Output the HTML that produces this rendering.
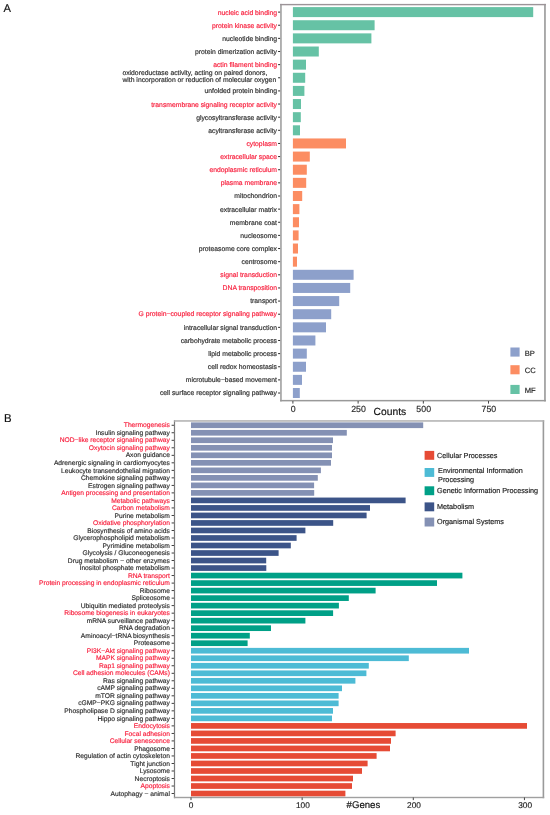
<!DOCTYPE html><html><head><meta charset="utf-8"><style>html,body{margin:0;padding:0;background:#fff;}svg{display:block;will-change:transform;}text{font-family:"Liberation Sans",sans-serif;stroke-width:0.16px;text-rendering:geometricPrecision;}</style></head><body>
<svg width="550" height="815" viewBox="0 0 550 815">
<rect x="0" y="0" width="550" height="815" fill="#fff"/>
<text x="3.6" y="12.2" font-size="11.2" fill="#111" stroke="#111">A</text>
<text x="4.0" y="421.9" font-size="11.4" fill="#111" stroke="#111">B</text>
<rect x="292.9" y="7.1" width="240.3" height="10" fill="#66C2A5"/>
<rect x="278.1" y="11.6" width="2.5" height="1.0" fill="#2a2a2a"/>
<text x="277" y="14.8" font-size="6.8" fill="#F8203E" stroke="#F8203E" text-anchor="end">nucleic acid binding</text>
<rect x="292.9" y="20.23" width="81.7" height="10" fill="#66C2A5"/>
<rect x="278.1" y="24.73" width="2.5" height="1.0" fill="#2a2a2a"/>
<text x="277" y="27.91" font-size="6.8" fill="#F8203E" stroke="#F8203E" text-anchor="end">protein kinase activity</text>
<rect x="292.9" y="33.37" width="78.5" height="10" fill="#66C2A5"/>
<rect x="278.1" y="37.87" width="2.5" height="1.0" fill="#2a2a2a"/>
<text x="277" y="41.03" font-size="6.8" fill="#2e2e2e" stroke="#2e2e2e" text-anchor="end">nucleotide binding</text>
<rect x="292.9" y="46.51" width="25.9" height="10" fill="#66C2A5"/>
<rect x="278.1" y="51.01" width="2.5" height="1.0" fill="#2a2a2a"/>
<text x="277" y="54.14" font-size="6.8" fill="#2e2e2e" stroke="#2e2e2e" text-anchor="end">protein dimerization activity</text>
<rect x="292.9" y="59.64" width="13.1" height="10" fill="#66C2A5"/>
<rect x="278.1" y="64.14" width="2.5" height="1.0" fill="#2a2a2a"/>
<text x="277" y="67.26" font-size="6.8" fill="#F8203E" stroke="#F8203E" text-anchor="end">actin filament binding</text>
<rect x="292.9" y="72.77" width="12.3" height="10" fill="#66C2A5"/>
<rect x="278.1" y="77.27" width="2.5" height="1.0" fill="#2a2a2a"/>
<text x="122.4" y="74.67" font-size="6.8" fill="#2e2e2e" stroke="#2e2e2e">oxidoreductase activity, acting on paired donors,</text>
<text x="122.4" y="82.47" font-size="6.8" fill="#2e2e2e" stroke="#2e2e2e">with incorporation or reduction of molecular oxygen</text>
<rect x="292.9" y="85.91" width="11.5" height="10" fill="#66C2A5"/>
<rect x="278.1" y="90.41" width="2.5" height="1.0" fill="#2a2a2a"/>
<text x="277" y="93.49" font-size="6.8" fill="#2e2e2e" stroke="#2e2e2e" text-anchor="end">unfolded protein binding</text>
<rect x="292.9" y="99.04" width="8.1" height="10" fill="#66C2A5"/>
<rect x="278.1" y="103.54" width="2.5" height="1.0" fill="#2a2a2a"/>
<text x="277" y="106.6" font-size="6.8" fill="#F8203E" stroke="#F8203E" text-anchor="end">transmembrane signaling receptor activity</text>
<rect x="292.9" y="112.18" width="7.9" height="10" fill="#66C2A5"/>
<rect x="278.1" y="116.68" width="2.5" height="1.0" fill="#2a2a2a"/>
<text x="277" y="119.71" font-size="6.8" fill="#2e2e2e" stroke="#2e2e2e" text-anchor="end">glycosyltransferase activity</text>
<rect x="292.9" y="125.31" width="7.1" height="10" fill="#66C2A5"/>
<rect x="278.1" y="129.81" width="2.5" height="1.0" fill="#2a2a2a"/>
<text x="277" y="132.83" font-size="6.8" fill="#2e2e2e" stroke="#2e2e2e" text-anchor="end">acyltransferase activity</text>
<rect x="292.9" y="138.45" width="53.1" height="10" fill="#FC8D62"/>
<rect x="278.1" y="142.95" width="2.5" height="1.0" fill="#2a2a2a"/>
<text x="277" y="145.94" font-size="6.8" fill="#F8203E" stroke="#F8203E" text-anchor="end">cytoplasm</text>
<rect x="292.9" y="151.58" width="16.9" height="10" fill="#FC8D62"/>
<rect x="278.1" y="156.08" width="2.5" height="1.0" fill="#2a2a2a"/>
<text x="277" y="159.06" font-size="6.8" fill="#F8203E" stroke="#F8203E" text-anchor="end">extracellular space</text>
<rect x="292.9" y="164.72" width="13.9" height="10" fill="#FC8D62"/>
<rect x="278.1" y="169.22" width="2.5" height="1.0" fill="#2a2a2a"/>
<text x="277" y="172.17" font-size="6.8" fill="#F8203E" stroke="#F8203E" text-anchor="end">endoplasmic reticulum</text>
<rect x="292.9" y="177.85" width="13.3" height="10" fill="#FC8D62"/>
<rect x="278.1" y="182.35" width="2.5" height="1.0" fill="#2a2a2a"/>
<text x="277" y="185.29" font-size="6.8" fill="#F8203E" stroke="#F8203E" text-anchor="end">plasma membrane</text>
<rect x="292.9" y="190.99" width="9.3" height="10" fill="#FC8D62"/>
<rect x="278.1" y="195.49" width="2.5" height="1.0" fill="#2a2a2a"/>
<text x="277" y="198.4" font-size="6.8" fill="#2e2e2e" stroke="#2e2e2e" text-anchor="end">mitochondrion</text>
<rect x="292.9" y="204.12" width="6.5" height="10" fill="#FC8D62"/>
<rect x="278.1" y="208.62" width="2.5" height="1.0" fill="#2a2a2a"/>
<text x="277" y="211.51" font-size="6.8" fill="#2e2e2e" stroke="#2e2e2e" text-anchor="end">extracellular matrix</text>
<rect x="292.9" y="217.26" width="6.1" height="10" fill="#FC8D62"/>
<rect x="278.1" y="221.76" width="2.5" height="1.0" fill="#2a2a2a"/>
<text x="277" y="224.63" font-size="6.8" fill="#2e2e2e" stroke="#2e2e2e" text-anchor="end">membrane coat</text>
<rect x="292.9" y="230.39" width="5.7" height="10" fill="#FC8D62"/>
<rect x="278.1" y="234.89" width="2.5" height="1.0" fill="#2a2a2a"/>
<text x="277" y="237.74" font-size="6.8" fill="#2e2e2e" stroke="#2e2e2e" text-anchor="end">nucleosome</text>
<rect x="292.9" y="243.53" width="5.1" height="10" fill="#FC8D62"/>
<rect x="278.1" y="248.03" width="2.5" height="1.0" fill="#2a2a2a"/>
<text x="277" y="250.86" font-size="6.8" fill="#2e2e2e" stroke="#2e2e2e" text-anchor="end">proteasome core complex</text>
<rect x="292.9" y="256.67" width="4.1" height="10" fill="#FC8D62"/>
<rect x="278.1" y="261.17" width="2.5" height="1.0" fill="#2a2a2a"/>
<text x="277" y="263.97" font-size="6.8" fill="#2e2e2e" stroke="#2e2e2e" text-anchor="end">centrosome</text>
<rect x="292.9" y="269.8" width="60.7" height="10" fill="#8DA0CB"/>
<rect x="278.1" y="274.3" width="2.5" height="1.0" fill="#2a2a2a"/>
<text x="277" y="277.09" font-size="6.8" fill="#F8203E" stroke="#F8203E" text-anchor="end">signal transduction</text>
<rect x="292.9" y="282.94" width="57.3" height="10" fill="#8DA0CB"/>
<rect x="278.1" y="287.44" width="2.5" height="1.0" fill="#2a2a2a"/>
<text x="277" y="290.2" font-size="6.8" fill="#F8203E" stroke="#F8203E" text-anchor="end">DNA transposition</text>
<rect x="292.9" y="296.07" width="46.3" height="10" fill="#8DA0CB"/>
<rect x="278.1" y="300.57" width="2.5" height="1.0" fill="#2a2a2a"/>
<text x="277" y="303.31" font-size="6.8" fill="#2e2e2e" stroke="#2e2e2e" text-anchor="end">transport</text>
<rect x="292.9" y="309.21" width="38.3" height="10" fill="#8DA0CB"/>
<rect x="278.1" y="313.71" width="2.5" height="1.0" fill="#2a2a2a"/>
<text x="277" y="316.43" font-size="6.8" fill="#F8203E" stroke="#F8203E" text-anchor="end">G protein−coupled receptor signaling pathway</text>
<rect x="292.9" y="322.34" width="33.1" height="10" fill="#8DA0CB"/>
<rect x="278.1" y="326.84" width="2.5" height="1.0" fill="#2a2a2a"/>
<text x="277" y="329.54" font-size="6.8" fill="#2e2e2e" stroke="#2e2e2e" text-anchor="end">intracellular signal transduction</text>
<rect x="292.9" y="335.48" width="22.5" height="10" fill="#8DA0CB"/>
<rect x="278.1" y="339.98" width="2.5" height="1.0" fill="#2a2a2a"/>
<text x="277" y="342.66" font-size="6.8" fill="#2e2e2e" stroke="#2e2e2e" text-anchor="end">carbohydrate metabolic process</text>
<rect x="292.9" y="348.61" width="13.9" height="10" fill="#8DA0CB"/>
<rect x="278.1" y="353.11" width="2.5" height="1.0" fill="#2a2a2a"/>
<text x="277" y="355.77" font-size="6.8" fill="#2e2e2e" stroke="#2e2e2e" text-anchor="end">lipid metabolic process</text>
<rect x="292.9" y="361.75" width="13.1" height="10" fill="#8DA0CB"/>
<rect x="278.1" y="366.25" width="2.5" height="1.0" fill="#2a2a2a"/>
<text x="277" y="368.89" font-size="6.8" fill="#2e2e2e" stroke="#2e2e2e" text-anchor="end">cell redox homeostasis</text>
<rect x="292.9" y="374.88" width="9.1" height="10" fill="#8DA0CB"/>
<rect x="278.1" y="379.38" width="2.5" height="1.0" fill="#2a2a2a"/>
<text x="277" y="382" font-size="6.8" fill="#2e2e2e" stroke="#2e2e2e" text-anchor="end">microtubule−based movement</text>
<rect x="292.9" y="388.02" width="6.9" height="10" fill="#8DA0CB"/>
<rect x="278.1" y="392.52" width="2.5" height="1.0" fill="#2a2a2a"/>
<text x="277" y="395.12" font-size="6.8" fill="#2e2e2e" stroke="#2e2e2e" text-anchor="end">cell surface receptor signaling pathway</text>
<rect x="280.1" y="3.9" width="1.7" height="397.5" fill="#a6a6a6"/>
<rect x="544.0" y="3.9" width="1.9" height="397.5" fill="#a8a8a8"/>
<rect x="280.1" y="3.9" width="265.8" height="1.4" fill="#9c9498"/>
<rect x="280.1" y="399.9" width="265.8" height="1.5" fill="#999999"/>
<rect x="292.45" y="401" width="0.9" height="2.6" fill="#333"/>
<text x="293.3" y="411.7" font-size="8.8" fill="#2b2b2b" stroke="#2b2b2b" text-anchor="middle">0</text>
<rect x="357.65" y="401" width="0.9" height="2.6" fill="#333"/>
<text x="358.5" y="411.7" font-size="8.8" fill="#2b2b2b" stroke="#2b2b2b" text-anchor="middle">250</text>
<rect x="422.85" y="401" width="0.9" height="2.6" fill="#333"/>
<text x="423.7" y="411.7" font-size="8.8" fill="#2b2b2b" stroke="#2b2b2b" text-anchor="middle">500</text>
<rect x="488.05" y="401" width="0.9" height="2.6" fill="#333"/>
<text x="488.9" y="411.7" font-size="8.8" fill="#2b2b2b" stroke="#2b2b2b" text-anchor="middle">750</text>
<text x="373.6" y="415.2" font-size="10.3" fill="#111" stroke="#111">Counts</text>
<rect x="510.4" y="347.5" width="9.2" height="9.1" fill="#8DA0CB"/>
<text x="524.8" y="356.3" font-size="7.6" fill="#222" stroke="#222">BP</text>
<rect x="510.4" y="365.2" width="9.2" height="9.1" fill="#FC8D62"/>
<text x="524.8" y="373.4" font-size="7.6" fill="#222" stroke="#222">CC</text>
<rect x="510.4" y="384.9" width="9.2" height="9.1" fill="#66C2A5"/>
<text x="524.8" y="393.2" font-size="7.6" fill="#222" stroke="#222">MF</text>
<rect x="191" y="422.4" width="232.2" height="5.7" fill="#8491B4"/>
<rect x="171.6" y="424.8" width="2.8" height="0.9" fill="#2a2a2a"/>
<text x="169.9" y="427.4" font-size="6.7" fill="#F8203E" stroke="#F8203E" text-anchor="end">Thermogenesis</text>
<rect x="191" y="429.92" width="155.8" height="5.7" fill="#8491B4"/>
<rect x="171.6" y="432.32" width="2.8" height="0.9" fill="#2a2a2a"/>
<text x="169.9" y="434.92" font-size="6.7" fill="#2e2e2e" stroke="#2e2e2e" text-anchor="end">Insulin signaling pathway</text>
<rect x="191" y="437.43" width="142" height="5.7" fill="#8491B4"/>
<rect x="171.6" y="439.83" width="2.8" height="0.9" fill="#2a2a2a"/>
<text x="169.9" y="442.43" font-size="6.7" fill="#F8203E" stroke="#F8203E" text-anchor="end">NOD−like receptor signaling pathway</text>
<rect x="191" y="444.95" width="141" height="5.7" fill="#8491B4"/>
<rect x="171.6" y="447.35" width="2.8" height="0.9" fill="#2a2a2a"/>
<text x="169.9" y="449.95" font-size="6.7" fill="#F8203E" stroke="#F8203E" text-anchor="end">Oxytocin signaling pathway</text>
<rect x="191" y="452.46" width="141" height="5.7" fill="#8491B4"/>
<rect x="171.6" y="454.86" width="2.8" height="0.9" fill="#2a2a2a"/>
<text x="169.9" y="457.46" font-size="6.7" fill="#2e2e2e" stroke="#2e2e2e" text-anchor="end">Axon guidance</text>
<rect x="191" y="459.98" width="140" height="5.7" fill="#8491B4"/>
<rect x="171.6" y="462.38" width="2.8" height="0.9" fill="#2a2a2a"/>
<text x="169.9" y="464.98" font-size="6.7" fill="#2e2e2e" stroke="#2e2e2e" text-anchor="end">Adrenergic signaling in cardiomyocytes</text>
<rect x="191" y="467.5" width="129.9" height="5.7" fill="#8491B4"/>
<rect x="171.6" y="469.9" width="2.8" height="0.9" fill="#2a2a2a"/>
<text x="169.9" y="472.5" font-size="6.7" fill="#2e2e2e" stroke="#2e2e2e" text-anchor="end">Leukocyte transendothelial migration</text>
<rect x="191" y="475.01" width="126.8" height="5.7" fill="#8491B4"/>
<rect x="171.6" y="477.41" width="2.8" height="0.9" fill="#2a2a2a"/>
<text x="169.9" y="480.01" font-size="6.7" fill="#2e2e2e" stroke="#2e2e2e" text-anchor="end">Chemokine signaling pathway</text>
<rect x="191" y="482.53" width="123.1" height="5.7" fill="#8491B4"/>
<rect x="171.6" y="484.93" width="2.8" height="0.9" fill="#2a2a2a"/>
<text x="169.9" y="487.53" font-size="6.7" fill="#2e2e2e" stroke="#2e2e2e" text-anchor="end">Estrogen signaling pathway</text>
<rect x="191" y="490.04" width="123.2" height="5.7" fill="#8491B4"/>
<rect x="171.6" y="492.44" width="2.8" height="0.9" fill="#2a2a2a"/>
<text x="169.9" y="495.04" font-size="6.7" fill="#F8203E" stroke="#F8203E" text-anchor="end">Antigen processing and presentation</text>
<rect x="191" y="497.56" width="214.6" height="5.7" fill="#3C5488"/>
<rect x="171.6" y="499.96" width="2.8" height="0.9" fill="#2a2a2a"/>
<text x="169.9" y="502.56" font-size="6.7" fill="#F8203E" stroke="#F8203E" text-anchor="end">Metabolic pathways</text>
<rect x="191" y="505.08" width="179" height="5.7" fill="#3C5488"/>
<rect x="171.6" y="507.48" width="2.8" height="0.9" fill="#2a2a2a"/>
<text x="169.9" y="510.08" font-size="6.7" fill="#F8203E" stroke="#F8203E" text-anchor="end">Carbon metabolism</text>
<rect x="191" y="512.59" width="175.6" height="5.7" fill="#3C5488"/>
<rect x="171.6" y="514.99" width="2.8" height="0.9" fill="#2a2a2a"/>
<text x="169.9" y="517.59" font-size="6.7" fill="#2e2e2e" stroke="#2e2e2e" text-anchor="end">Purine metabolism</text>
<rect x="191" y="520.11" width="142.2" height="5.7" fill="#3C5488"/>
<rect x="171.6" y="522.51" width="2.8" height="0.9" fill="#2a2a2a"/>
<text x="169.9" y="525.11" font-size="6.7" fill="#F8203E" stroke="#F8203E" text-anchor="end">Oxidative phosphorylation</text>
<rect x="191" y="527.62" width="114.4" height="5.7" fill="#3C5488"/>
<rect x="171.6" y="530.02" width="2.8" height="0.9" fill="#2a2a2a"/>
<text x="169.9" y="532.62" font-size="6.7" fill="#2e2e2e" stroke="#2e2e2e" text-anchor="end">Biosynthesis of amino acids</text>
<rect x="191" y="535.14" width="105.6" height="5.7" fill="#3C5488"/>
<rect x="171.6" y="537.54" width="2.8" height="0.9" fill="#2a2a2a"/>
<text x="169.9" y="540.14" font-size="6.7" fill="#2e2e2e" stroke="#2e2e2e" text-anchor="end">Glycerophospholipid metabolism</text>
<rect x="191" y="542.66" width="99.8" height="5.7" fill="#3C5488"/>
<rect x="171.6" y="545.06" width="2.8" height="0.9" fill="#2a2a2a"/>
<text x="169.9" y="547.66" font-size="6.7" fill="#2e2e2e" stroke="#2e2e2e" text-anchor="end">Pyrimidine metabolism</text>
<rect x="191" y="550.17" width="87.6" height="5.7" fill="#3C5488"/>
<rect x="171.6" y="552.57" width="2.8" height="0.9" fill="#2a2a2a"/>
<text x="169.9" y="555.17" font-size="6.7" fill="#2e2e2e" stroke="#2e2e2e" text-anchor="end">Glycolysis / Gluconeogenesis</text>
<rect x="191" y="557.69" width="75.2" height="5.7" fill="#3C5488"/>
<rect x="171.6" y="560.09" width="2.8" height="0.9" fill="#2a2a2a"/>
<text x="169.9" y="562.69" font-size="6.7" fill="#2e2e2e" stroke="#2e2e2e" text-anchor="end">Drug metabolism − other enzymes</text>
<rect x="191" y="565.2" width="75.3" height="5.7" fill="#3C5488"/>
<rect x="171.6" y="567.6" width="2.8" height="0.9" fill="#2a2a2a"/>
<text x="169.9" y="570.2" font-size="6.7" fill="#2e2e2e" stroke="#2e2e2e" text-anchor="end">Inositol phosphate metabolism</text>
<rect x="191" y="572.72" width="271.4" height="5.7" fill="#00A087"/>
<rect x="171.6" y="575.12" width="2.8" height="0.9" fill="#2a2a2a"/>
<text x="169.9" y="577.72" font-size="6.7" fill="#F8203E" stroke="#F8203E" text-anchor="end">RNA transport</text>
<rect x="191" y="580.24" width="246" height="5.7" fill="#00A087"/>
<rect x="171.6" y="582.64" width="2.8" height="0.9" fill="#2a2a2a"/>
<text x="169.9" y="585.24" font-size="6.7" fill="#F8203E" stroke="#F8203E" text-anchor="end">Protein processing in endoplasmic reticulum</text>
<rect x="191" y="587.75" width="184.6" height="5.7" fill="#00A087"/>
<rect x="171.6" y="590.15" width="2.8" height="0.9" fill="#2a2a2a"/>
<text x="169.9" y="592.75" font-size="6.7" fill="#2e2e2e" stroke="#2e2e2e" text-anchor="end">Ribosome</text>
<rect x="191" y="595.27" width="157.8" height="5.7" fill="#00A087"/>
<rect x="171.6" y="597.67" width="2.8" height="0.9" fill="#2a2a2a"/>
<text x="169.9" y="600.27" font-size="6.7" fill="#2e2e2e" stroke="#2e2e2e" text-anchor="end">Spliceosome</text>
<rect x="191" y="602.78" width="147.9" height="5.7" fill="#00A087"/>
<rect x="171.6" y="605.18" width="2.8" height="0.9" fill="#2a2a2a"/>
<text x="169.9" y="607.78" font-size="6.7" fill="#2e2e2e" stroke="#2e2e2e" text-anchor="end">Ubiquitin mediated proteolysis</text>
<rect x="191" y="610.3" width="142.1" height="5.7" fill="#00A087"/>
<rect x="171.6" y="612.7" width="2.8" height="0.9" fill="#2a2a2a"/>
<text x="169.9" y="615.3" font-size="6.7" fill="#F8203E" stroke="#F8203E" text-anchor="end">Ribosome biogenesis in eukaryotes</text>
<rect x="191" y="617.82" width="114.4" height="5.7" fill="#00A087"/>
<rect x="171.6" y="620.22" width="2.8" height="0.9" fill="#2a2a2a"/>
<text x="169.9" y="622.82" font-size="6.7" fill="#2e2e2e" stroke="#2e2e2e" text-anchor="end">mRNA surveillance pathway</text>
<rect x="191" y="625.33" width="80" height="5.7" fill="#00A087"/>
<rect x="171.6" y="627.73" width="2.8" height="0.9" fill="#2a2a2a"/>
<text x="169.9" y="630.33" font-size="6.7" fill="#2e2e2e" stroke="#2e2e2e" text-anchor="end">RNA degradation</text>
<rect x="191" y="632.85" width="58.8" height="5.7" fill="#00A087"/>
<rect x="171.6" y="635.25" width="2.8" height="0.9" fill="#2a2a2a"/>
<text x="169.9" y="637.85" font-size="6.7" fill="#2e2e2e" stroke="#2e2e2e" text-anchor="end">Aminoacyl−tRNA biosynthesis</text>
<rect x="191" y="640.36" width="56.6" height="5.7" fill="#00A087"/>
<rect x="171.6" y="642.76" width="2.8" height="0.9" fill="#2a2a2a"/>
<text x="169.9" y="645.36" font-size="6.7" fill="#2e2e2e" stroke="#2e2e2e" text-anchor="end">Proteasome</text>
<rect x="191" y="647.88" width="278" height="5.7" fill="#4DBBD5"/>
<rect x="171.6" y="650.28" width="2.8" height="0.9" fill="#2a2a2a"/>
<text x="169.9" y="652.88" font-size="6.7" fill="#F8203E" stroke="#F8203E" text-anchor="end">PI3K−Akt signaling pathway</text>
<rect x="191" y="655.4" width="217.8" height="5.7" fill="#4DBBD5"/>
<rect x="171.6" y="657.8" width="2.8" height="0.9" fill="#2a2a2a"/>
<text x="169.9" y="660.4" font-size="6.7" fill="#F8203E" stroke="#F8203E" text-anchor="end">MAPK signaling pathway</text>
<rect x="191" y="662.91" width="177.8" height="5.7" fill="#4DBBD5"/>
<rect x="171.6" y="665.31" width="2.8" height="0.9" fill="#2a2a2a"/>
<text x="169.9" y="667.91" font-size="6.7" fill="#F8203E" stroke="#F8203E" text-anchor="end">Rap1 signaling pathway</text>
<rect x="191" y="670.43" width="175.4" height="5.7" fill="#4DBBD5"/>
<rect x="171.6" y="672.83" width="2.8" height="0.9" fill="#2a2a2a"/>
<text x="169.9" y="675.43" font-size="6.7" fill="#F8203E" stroke="#F8203E" text-anchor="end">Cell adhesion molecules (CAMs)</text>
<rect x="191" y="677.94" width="164.4" height="5.7" fill="#4DBBD5"/>
<rect x="171.6" y="680.34" width="2.8" height="0.9" fill="#2a2a2a"/>
<text x="169.9" y="682.94" font-size="6.7" fill="#2e2e2e" stroke="#2e2e2e" text-anchor="end">Ras signaling pathway</text>
<rect x="191" y="685.46" width="151" height="5.7" fill="#4DBBD5"/>
<rect x="171.6" y="687.86" width="2.8" height="0.9" fill="#2a2a2a"/>
<text x="169.9" y="690.46" font-size="6.7" fill="#2e2e2e" stroke="#2e2e2e" text-anchor="end">cAMP signaling pathway</text>
<rect x="191" y="692.98" width="147.6" height="5.7" fill="#4DBBD5"/>
<rect x="171.6" y="695.38" width="2.8" height="0.9" fill="#2a2a2a"/>
<text x="169.9" y="697.98" font-size="6.7" fill="#2e2e2e" stroke="#2e2e2e" text-anchor="end">mTOR signaling pathway</text>
<rect x="191" y="700.49" width="147.6" height="5.7" fill="#4DBBD5"/>
<rect x="171.6" y="702.89" width="2.8" height="0.9" fill="#2a2a2a"/>
<text x="169.9" y="705.49" font-size="6.7" fill="#2e2e2e" stroke="#2e2e2e" text-anchor="end">cGMP−PKG signaling pathway</text>
<rect x="191" y="708.01" width="142" height="5.7" fill="#4DBBD5"/>
<rect x="171.6" y="710.41" width="2.8" height="0.9" fill="#2a2a2a"/>
<text x="169.9" y="713.01" font-size="6.7" fill="#2e2e2e" stroke="#2e2e2e" text-anchor="end">Phospholipase D signaling pathway</text>
<rect x="191" y="715.52" width="141" height="5.7" fill="#4DBBD5"/>
<rect x="171.6" y="717.92" width="2.8" height="0.9" fill="#2a2a2a"/>
<text x="169.9" y="720.52" font-size="6.7" fill="#2e2e2e" stroke="#2e2e2e" text-anchor="end">Hippo signaling pathway</text>
<rect x="191" y="723.04" width="336" height="5.7" fill="#E64B35"/>
<rect x="171.6" y="725.44" width="2.8" height="0.9" fill="#2a2a2a"/>
<text x="169.9" y="728.04" font-size="6.7" fill="#F8203E" stroke="#F8203E" text-anchor="end">Endocytosis</text>
<rect x="191" y="730.56" width="204.6" height="5.7" fill="#E64B35"/>
<rect x="171.6" y="732.96" width="2.8" height="0.9" fill="#2a2a2a"/>
<text x="169.9" y="735.56" font-size="6.7" fill="#F8203E" stroke="#F8203E" text-anchor="end">Focal adhesion</text>
<rect x="191" y="738.07" width="200" height="5.7" fill="#E64B35"/>
<rect x="171.6" y="740.47" width="2.8" height="0.9" fill="#2a2a2a"/>
<text x="169.9" y="743.07" font-size="6.7" fill="#F8203E" stroke="#F8203E" text-anchor="end">Cellular senescence</text>
<rect x="191" y="745.59" width="199" height="5.7" fill="#E64B35"/>
<rect x="171.6" y="747.99" width="2.8" height="0.9" fill="#2a2a2a"/>
<text x="169.9" y="750.59" font-size="6.7" fill="#2e2e2e" stroke="#2e2e2e" text-anchor="end">Phagosome</text>
<rect x="191" y="753.1" width="185.6" height="5.7" fill="#E64B35"/>
<rect x="171.6" y="755.5" width="2.8" height="0.9" fill="#2a2a2a"/>
<text x="169.9" y="758.1" font-size="6.7" fill="#2e2e2e" stroke="#2e2e2e" text-anchor="end">Regulation of actin cytoskeleton</text>
<rect x="191" y="760.62" width="176.6" height="5.7" fill="#E64B35"/>
<rect x="171.6" y="763.02" width="2.8" height="0.9" fill="#2a2a2a"/>
<text x="169.9" y="765.62" font-size="6.7" fill="#2e2e2e" stroke="#2e2e2e" text-anchor="end">Tight junction</text>
<rect x="191" y="768.14" width="171" height="5.7" fill="#E64B35"/>
<rect x="171.6" y="770.54" width="2.8" height="0.9" fill="#2a2a2a"/>
<text x="169.9" y="773.14" font-size="6.7" fill="#2e2e2e" stroke="#2e2e2e" text-anchor="end">Lysosome</text>
<rect x="191" y="775.65" width="162" height="5.7" fill="#E64B35"/>
<rect x="171.6" y="778.05" width="2.8" height="0.9" fill="#2a2a2a"/>
<text x="169.9" y="780.65" font-size="6.7" fill="#2e2e2e" stroke="#2e2e2e" text-anchor="end">Necroptosis</text>
<rect x="191" y="783.17" width="161" height="5.7" fill="#E64B35"/>
<rect x="171.6" y="785.57" width="2.8" height="0.9" fill="#2a2a2a"/>
<text x="169.9" y="788.17" font-size="6.7" fill="#F8203E" stroke="#F8203E" text-anchor="end">Apoptosis</text>
<rect x="191" y="790.68" width="154.4" height="5.7" fill="#E64B35"/>
<rect x="171.6" y="793.08" width="2.8" height="0.9" fill="#2a2a2a"/>
<text x="169.9" y="795.68" font-size="6.7" fill="#2e2e2e" stroke="#2e2e2e" text-anchor="end">Autophagy − animal</text>
<rect x="173.9" y="420.2" width="1.2" height="378" fill="#7a7a7a"/>
<rect x="542.6" y="420.2" width="1.6" height="378" fill="#9a9a9a"/>
<rect x="173.9" y="420.2" width="370.3" height="1.5" fill="#b0b0b0"/>
<rect x="173.9" y="796.8" width="370.3" height="1.4" fill="#a0a0a0"/>
<rect x="190.55" y="797.5" width="0.9" height="2.6" fill="#333"/>
<text x="191.1" y="808.2" font-size="8.3" fill="#222" stroke="#222" text-anchor="middle">0</text>
<rect x="301.68" y="797.5" width="0.9" height="2.6" fill="#333"/>
<text x="302.83" y="808.2" font-size="8.3" fill="#222" stroke="#222" text-anchor="middle">100</text>
<rect x="412.81" y="797.5" width="0.9" height="2.6" fill="#333"/>
<text x="413.96" y="808.2" font-size="8.3" fill="#222" stroke="#222" text-anchor="middle">200</text>
<rect x="523.94" y="797.5" width="0.9" height="2.6" fill="#333"/>
<text x="525.09" y="808.2" font-size="8.3" fill="#222" stroke="#222" text-anchor="middle">300</text>
<text x="346.6" y="808.2" font-size="9.6" fill="#111" stroke="#111">#Genes</text>
<rect x="424.6" y="450.9" width="9.6" height="8.9" fill="#E64B35"/>
<text x="437.0" y="457.5" font-size="7.25" fill="#222" stroke="#222">Cellular Processes</text>
<rect x="424.6" y="468" width="9.6" height="8.9" fill="#4DBBD5"/>
<text x="438.1" y="473" font-size="7.25" fill="#222" stroke="#222">Environmental Information</text>
<text x="438.1" y="482" font-size="7.25" fill="#222" stroke="#222">Processing</text>
<rect x="424.6" y="486.3" width="9.6" height="8.9" fill="#00A087"/>
<text x="437.0" y="493.4" font-size="7.25" fill="#222" stroke="#222">Genetic Information Processing</text>
<rect x="424.6" y="502.4" width="9.6" height="8.9" fill="#3C5488"/>
<text x="437.0" y="509" font-size="7.25" fill="#222" stroke="#222">Metabolism</text>
<rect x="424.6" y="517.6" width="9.6" height="8.9" fill="#8491B4"/>
<text x="437.0" y="524" font-size="7.25" fill="#222" stroke="#222">Organismal Systems</text>
</svg></body></html>
